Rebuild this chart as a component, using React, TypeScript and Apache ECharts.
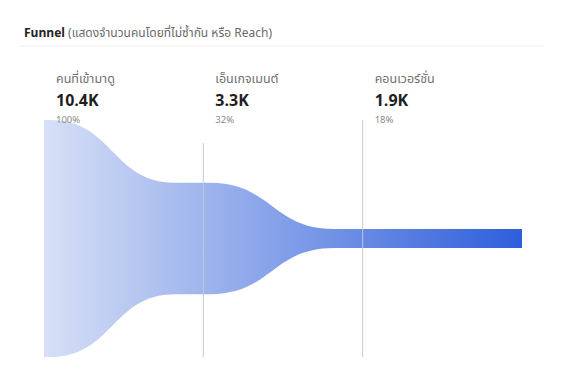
import React, { useEffect, useRef } from "react";
import * as echarts from "echarts";

const titleMain = "Funnel";
const titleSub = " (แสดงจำนวนคนโดยที่ไม่ซ้ำกัน หรือ Reach)";
const stageNames = ["คนที่เข้ามาดู", "เอ็นเกจเมนต์", "คอนเวอร์ชั่น"];
const stageValues = [10400, 3300, 1900];
// displayed band width of each stage, relative to the first stage (as drawn)
const bandWidths = [100, 47, 8];

const FONT = "'Noto Sans Thai', 'Noto Sans', 'Noto Sans CJK SC', sans-serif";

function fmtK(v: number) {
  return (v / 1000).toFixed(1) + "K";
}

export default function App() {
  const ref = useRef<HTMLDivElement>(null);
  useEffect(() => {
    if (!ref.current) return;
    const chart = echarts.init(ref.current, undefined, { renderer: "svg" });
    const n = stageValues.length;

    const shapeItem = (params: any, api: any) => {
      const pts = (x: number, y: number) => api.coord([x, y]);
      const a = 0.04;
      const b = 0.82;
      const top: string[] = [];
      for (let i = 0; i < n - 1; i++) {
        const h0 = bandWidths[i] / 2;
        const h1 = bandWidths[i + 1] / 2;
        const p1 = pts(i + a, h0);
        const m = i + (a + b) / 2;
        const c1 = pts(m, h0);
        const c2 = pts(m, h1);
        const p2 = pts(i + b, h1);
        const p3 = pts(i + 1, h1);
        top.push(`L${p1[0]},${p1[1]}`);
        top.push(`C${c1[0]},${c1[1]} ${c2[0]},${c2[1]} ${p2[0]},${p2[1]}`);
        top.push(`L${p3[0]},${p3[1]}`);
      }
      const te = pts(n, bandWidths[n - 1] / 2);
      top.push(`L${te[0]},${te[1]}`);
      const s = pts(0, bandWidths[0] / 2);
      const bottom: string[] = [];
      const bl = pts(n, -bandWidths[n - 1] / 2);
      bottom.push(`L${bl[0]},${bl[1]}`);
      for (let i = n - 2; i >= 0; i--) {
        const h0 = -bandWidths[i] / 2;
        const h1 = -bandWidths[i + 1] / 2;
        const p3 = pts(i + 1, h1);
        const p2 = pts(i + b, h1);
        const m = i + (a + b) / 2;
        const c2 = pts(m, h1);
        const c1 = pts(m, h0);
        const p1 = pts(i + a, h0);
        bottom.push(`L${p3[0]},${p3[1]}`);
        bottom.push(`L${p2[0]},${p2[1]}`);
        bottom.push(`C${c2[0]},${c2[1]} ${c1[0]},${c1[1]} ${p1[0]},${p1[1]}`);
      }
      const b0 = pts(0, -bandWidths[0] / 2);
      bottom.push(`L${b0[0]},${b0[1]}`);
      const d = `M${s[0]},${s[1]} ${top.join(" ")} ${bottom.join(" ")} Z`;
      return {
        type: "path",
        shape: { pathData: d },
        style: {
          fill: new echarts.graphic.LinearGradient(0, 0, 1, 0, [
            { offset: 0, color: "#d7e0f6" },
            { offset: 1, color: "#2e5edb" },
          ]),
          stroke: "none",
        },
      };
    };

    const lineTopOffsets = [0, 23, 0];

    const labelItem = (params: any, api: any) => {
      const i = api.value(0);
      const topPt = api.coord([i, 50]);
      const botPt = api.coord([i, -50]);
      const x = topPt[0];
      const y0 = topPt[1];
      const children: any[] = [];
      if (i > 0) {
        children.push({
          type: "line",
          shape: { x1: x, y1: y0 + lineTopOffsets[i], x2: x, y2: botPt[1] },
          style: { stroke: "#c5c8dc", lineWidth: 1 },
        });
      }
      const tx = x + 12;
      children.push({
        type: "text",
        x: tx,
        y: y0 - 41,
        style: {
          text: stageNames[i],
          fill: "#707070",
          fontSize: 12.5,
          fontFamily: FONT,
          verticalAlign: "middle",
          align: "left",
        },
      });
      children.push({
        type: "text",
        x: tx,
        y: y0 - 19.5,
        style: {
          text: fmtK(stageValues[i]),
          fill: "#1f1f1f",
          fontSize: 16,
          lineHeight: 16,
          fontWeight: "bold",
          fontFamily: FONT,
          verticalAlign: "middle",
          align: "left",
        },
      });
      children.push({
        type: "text",
        x: tx,
        y: y0 - 0.5,
        style: {
          text: Math.round((stageValues[i] / stageValues[0]) * 100) + "%",
          fill: "#8a8a8a",
          fontSize: 9.5,
          lineHeight: 10,
          fontFamily: FONT,
          verticalAlign: "middle",
          align: "left",
        },
      });
      return { type: "group", children };
    };

    chart.setOption({
      animation: false,
      backgroundColor: "#ffffff",
      title: {
        left: 19,
        top: 22,
        text: `{b|${titleMain}}{n|${titleSub}}`,
        textStyle: {
          rich: {
            b: { fontSize: 12, fontWeight: "bold", color: "#222222", fontFamily: FONT },
            n: { fontSize: 12, fontWeight: "normal", color: "#6a6a6a", fontFamily: FONT },
          },
        },
      },
      graphic: [
        {
          type: "line",
          shape: { x1: 19, y1: 46, x2: 544, y2: 46 },
          style: { stroke: "#efefef", lineWidth: 1 },
        },
      ],
      grid: { left: 44, right: 47, top: 120, bottom: 34 },
      xAxis: { type: "value", min: 0, max: n, show: false },
      yAxis: { type: "value", min: -50, max: 50, show: false },
      series: [
        {
          type: "custom",
          renderItem: shapeItem,
          data: [[0, 0]],
          clip: false,
          silent: true,
        },
        {
          type: "custom",
          renderItem: labelItem,
          data: stageNames.map((_, i) => [i, 0]),
          clip: false,
          silent: true,
          z: 3,
        },
      ],
    });
    return () => chart.dispose();
  }, []);
  return (
    <div
      ref={ref}
      style={{ position: "fixed", left: 0, top: 0, width: 569, height: 391 }}
    />
  );
}
